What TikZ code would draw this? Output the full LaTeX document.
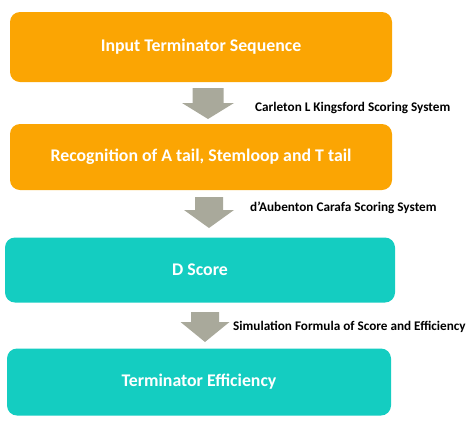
\documentclass[tikz,border=0pt]{standalone}
\usepackage{fontspec}
\setmainfont{Carlito}
\usetikzlibrary{calc}
\definecolor{boxorange}{HTML}{FBA503}
\definecolor{boxteal}{HTML}{14CDC1}
\definecolor{arrowgrey}{HTML}{A9A99B}
\tikzset{
  stepbox/.style={rounded corners=10pt, inner sep=0pt, text=white, font=\bfseries\fontsize{17.8}{20}\selectfont},
  orangebox/.style={stepbox, fill=boxorange},
  tealbox/.style={stepbox, fill=boxteal},
  lbl/.style={anchor=west, inner sep=0pt, font=\bfseries\fontsize{13.2}{15}\selectfont, text=black},
  blockarrow/.style={fill=arrowgrey}
}
\begin{document}
\begin{tikzpicture}[x=1pt,y=-1pt]
\useasboundingbox (0,0) rectangle (474,424);
\node[orangebox, minimum width=382pt, minimum height=70pt] (b1) at (201,47) {Input Terminator Sequence};
\node[orangebox, minimum width=382pt, minimum height=66pt] (b2) at (201,157) {Recognition of A tail, Stemloop and T tail};
\node[tealbox, minimum width=390pt, minimum height=65pt] (b3) at (200,270) {D Score};
\node[tealbox, minimum width=384pt, minimum height=67pt] (b4) at (199,382) {Terminator Efficiency};
% block arrows
\coordinate (a1) at (208,88);
\fill[blockarrow] ($(a1)+(-15.5,0)$) -- ($(a1)+(15.5,0)$) -- ($(a1)+(15.5,15)$) -- ($(a1)+(26,15)$) -- ($(a1)+(0,31)$) -- ($(a1)+(-26,15)$) -- ($(a1)+(-15.5,15)$) -- cycle;
\coordinate (a2) at (209,197);
\fill[blockarrow] ($(a2)+(-14,0)$) -- ($(a2)+(14,0)$) -- ($(a2)+(14,13)$) -- ($(a2)+(25,13)$) -- ($(a2)+(0,31)$) -- ($(a2)+(-25,13)$) -- ($(a2)+(-14,13)$) -- cycle;
\coordinate (a3) at (205,312);
\fill[blockarrow] ($(a3)+(-14,0)$) -- ($(a3)+(14,0)$) -- ($(a3)+(14,10)$) -- ($(a3)+(24.5,10)$) -- ($(a3)+(0,30)$) -- ($(a3)+(-24.5,10)$) -- ($(a3)+(-14,10)$) -- cycle;
\node[lbl] (l1) at (255,108) {Carleton L Kingsford Scoring System};
\node[lbl] (l2) at (250,208) {d’Aubenton Carafa Scoring System};
\node[lbl] (l3) at (233,327) {Simulation Formula of Score and Efficiency};
\end{tikzpicture}
\end{document}
